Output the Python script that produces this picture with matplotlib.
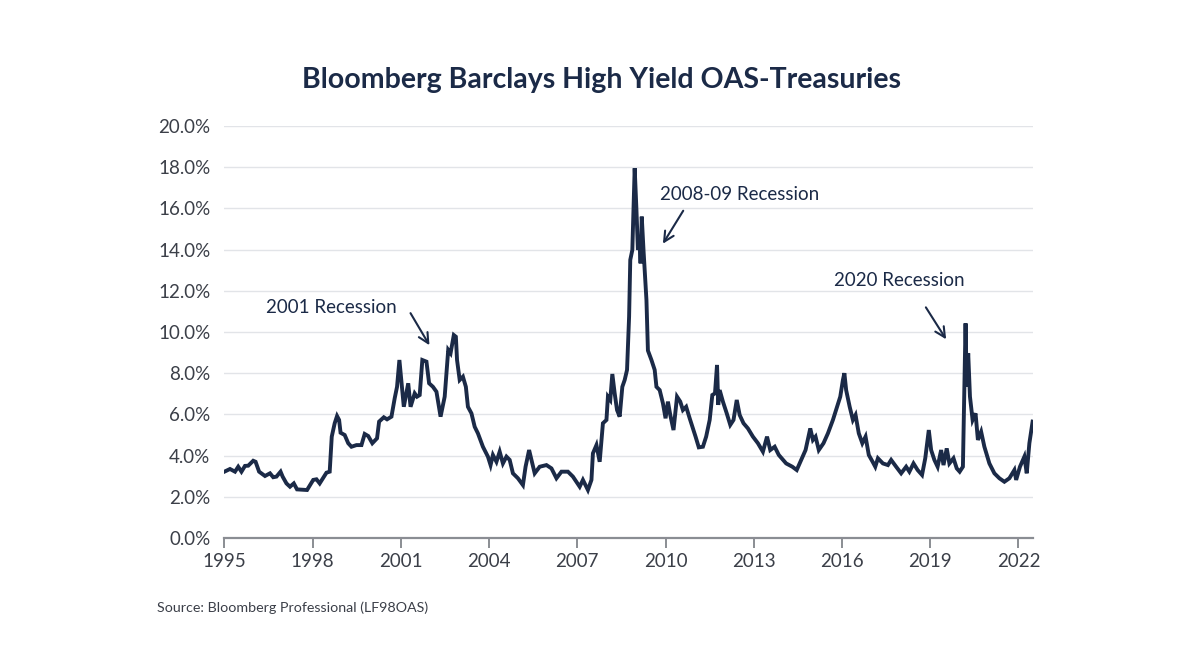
import matplotlib.pyplot as plt
import matplotlib.ticker as mticker

# values (year, OAS %)
years = [
    1995.00, 1995.19, 1995.36, 1995.47, 1995.58, 1995.70, 1995.81, 1995.98, 1996.06, 1996.18,
    1996.38, 1996.55, 1996.66, 1996.77, 1996.91, 1996.98, 1997.11, 1997.23, 1997.36, 1997.47,
    1997.81, 1998.02, 1998.13, 1998.24, 1998.47, 1998.58, 1998.65, 1998.75, 1998.83, 1998.90,
    1998.95, 1999.09, 1999.21, 1999.32, 1999.49, 1999.66, 1999.77, 1999.89, 2000.03, 2000.19,
    2000.26, 2000.42, 2000.53, 2000.68, 2000.79, 2000.87, 2000.95, 2001.10, 2001.25, 2001.33,
    2001.47, 2001.55, 2001.64, 2001.73, 2001.87, 2001.96, 2002.09, 2002.21, 2002.35, 2002.49,
    2002.61, 2002.69, 2002.80, 2002.87, 2002.91, 2003.00, 2003.11, 2003.21, 2003.28, 2003.40,
    2003.51, 2003.62, 2003.79, 2003.96, 2004.05, 2004.13, 2004.25, 2004.36, 2004.47, 2004.59,
    2004.70, 2004.81, 2004.98, 2005.15, 2005.24, 2005.36, 2005.44, 2005.55, 2005.72, 2005.95,
    2006.12, 2006.29, 2006.46, 2006.68, 2006.85, 2007.08, 2007.19, 2007.36, 2007.48, 2007.53,
    2007.65, 2007.76, 2007.87, 2007.99, 2008.04, 2008.12, 2008.19, 2008.27, 2008.35, 2008.44,
    2008.53, 2008.61, 2008.69, 2008.76, 2008.80, 2008.87, 2008.95, 2009.01, 2009.06, 2009.12,
    2009.15, 2009.19, 2009.25, 2009.35, 2009.40, 2009.52, 2009.63, 2009.69, 2009.80, 2009.91,
    2010.00, 2010.08, 2010.16, 2010.27, 2010.39, 2010.50, 2010.59, 2010.70, 2010.82, 2010.93,
    2011.02, 2011.13, 2011.27, 2011.38, 2011.50, 2011.59, 2011.68, 2011.75, 2011.79, 2011.84,
    2011.95, 2012.08, 2012.20, 2012.31, 2012.42, 2012.52, 2012.65, 2012.80, 2012.97, 2013.14,
    2013.31, 2013.45, 2013.56, 2013.71, 2013.85, 2014.10, 2014.31, 2014.46, 2014.61, 2014.76,
    2014.92, 2015.01, 2015.10, 2015.21, 2015.37, 2015.52, 2015.69, 2015.83, 2015.94, 2016.03,
    2016.08, 2016.14, 2016.26, 2016.37, 2016.46, 2016.57, 2016.69, 2016.80, 2016.91, 2017.04,
    2017.13, 2017.22, 2017.39, 2017.56, 2017.67, 2017.84, 2018.01, 2018.18, 2018.29, 2018.43,
    2018.57, 2018.72, 2018.83, 2018.95, 2019.03, 2019.14, 2019.25, 2019.37, 2019.45, 2019.56,
    2019.65, 2019.79, 2019.90, 2020.00, 2020.11, 2020.16, 2020.20, 2020.24, 2020.29, 2020.35,
    2020.44, 2020.54, 2020.62, 2020.73, 2020.84, 2021.01, 2021.18, 2021.35, 2021.52, 2021.69,
    2021.86, 2021.92, 2022.05, 2022.20, 2022.28, 2022.37, 2022.48,
]
oas = [
    3.22, 3.35, 3.22, 3.46, 3.22, 3.50, 3.51, 3.75, 3.70, 3.22,
    3.01, 3.14, 2.95, 2.98, 3.22, 2.98, 2.65, 2.49, 2.65, 2.36,
    2.33, 2.82, 2.85, 2.65, 3.17, 3.22, 4.92, 5.57, 5.92, 5.73,
    5.11, 5.00, 4.60, 4.43, 4.51, 4.51, 5.05, 4.95, 4.60, 4.84,
    5.65, 5.86, 5.76, 5.89, 6.78, 7.34, 8.64, 6.37, 7.51, 6.37,
    7.02, 6.86, 6.94, 8.64, 8.56, 7.51, 7.34, 7.10, 5.89, 6.86,
    9.13, 8.97, 9.85, 9.77, 8.64, 7.67, 7.83, 7.34, 6.37, 6.05,
    5.40, 5.08, 4.43, 3.95, 3.54, 4.03, 3.70, 4.19, 3.62, 3.95,
    3.79, 3.14, 2.90, 2.57, 3.46, 4.27, 3.79, 3.14, 3.46, 3.54,
    3.38, 2.90, 3.22, 3.22, 2.98, 2.49, 2.82, 2.33, 2.82, 4.11,
    4.51, 3.70, 5.57, 5.73, 6.86, 6.70, 7.96, 7.02, 6.21, 5.89,
    7.34, 7.67, 8.16, 10.74, 13.50, 13.98, 17.95, 15.92, 13.98, 14.31,
    13.33, 15.60, 13.98, 11.55, 9.10, 8.64, 8.16, 7.34, 7.18, 6.54,
    5.81, 6.62, 5.97, 5.24, 6.86, 6.62, 6.21, 6.37, 5.81, 5.32,
    4.92, 4.40, 4.43, 4.92, 5.73, 6.94, 7.02, 8.40, 6.46, 7.18,
    6.62, 6.05, 5.49, 5.73, 6.70, 5.97, 5.57, 5.32, 4.92, 4.60,
    4.19, 4.92, 4.27, 4.43, 4.03, 3.62, 3.46, 3.30, 3.79, 4.27,
    5.32, 4.76, 4.92, 4.27, 4.60, 5.08, 5.73, 6.37, 6.86, 7.67,
    8.00, 7.18, 6.37, 5.73, 5.97, 5.08, 4.60, 4.92, 4.03, 3.70,
    3.46, 3.87, 3.62, 3.54, 3.79, 3.46, 3.14, 3.46, 3.22, 3.62,
    3.30, 3.06, 3.87, 5.24, 4.27, 3.79, 3.46, 4.27, 3.54, 4.35,
    3.62, 3.87, 3.38, 3.22, 3.46, 7.34, 10.42, 7.34, 8.97, 6.86,
    5.73, 6.05, 4.76, 5.16, 4.43, 3.62, 3.14, 2.90, 2.73, 2.90,
    3.30, 2.82, 3.46, 3.95, 3.14, 4.60, 5.65,
]

x_ticks = [1995, 1998, 2001, 2004, 2007, 2010, 2013, 2016, 2019, 2022]
y_ticks = [0, 2, 4, 6, 8, 10, 12, 14, 16, 18, 20]

navy = '#1b2a47'
tick_color = '#3b3f48'

plt.rcParams['font.family'] = ['Lato', 'DejaVu Sans']

fig = plt.figure(figsize=(12, 6.7), dpi=100)
ax = fig.add_axes([0.187, 0.197, 0.674, 0.615])

ax.plot(years, oas, color=navy, linewidth=2.8, solid_joinstyle='miter')

ax.set_xlim(1995, 2022.5)
ax.set_ylim(0, 20)
ax.set_xticks(x_ticks)
ax.set_yticks(y_ticks)
ax.yaxis.set_major_formatter(mticker.FuncFormatter(lambda v, p: f"{v:.1f}%"))

# light horizontal grid, gray baseline only
ax.grid(True, axis='y', color='#e2e4e8', linewidth=1.0)
ax.set_axisbelow(True)
for side in ['left', 'right', 'top']:
    ax.spines[side].set_visible(False)
ax.spines['bottom'].set_color('#8a8d93')
ax.spines['bottom'].set_linewidth(1.6)

ax.tick_params(axis='x', colors='#8a8d93', length=7, width=1.4, labelsize=13.5, labelcolor=tick_color, pad=4)
ax.tick_params(axis='y', length=0, labelsize=13.5, labelcolor=tick_color, pad=10)

fig.text(0.501, 0.881, 'Bloomberg Barclays High Yield OAS-Treasuries', ha='center', va='center',
         fontsize=20.5, fontweight='bold', color=navy)
fig.text(0.131, 0.093, 'Source: Bloomberg Professional (LF98OAS)', ha='left', va='center',
         fontsize=10.3, color=tick_color)

# recession callouts
arrow_style = dict(arrowstyle='->', color=navy, lw=1.5, mutation_scale=18)
ax.text(1998.65, 11.17, '2001 Recession', ha='center', va='center', fontsize=13.5, color=navy)
ax.annotate('', xy=(2002.02, 9.24), xytext=(2001.28, 11.03), arrowprops=arrow_style)
ax.text(2012.52, 16.65, '2008-09 Recession', ha='center', va='center', fontsize=13.5, color=navy)
ax.annotate('', xy=(2009.86, 14.17), xytext=(2010.65, 16.0), arrowprops=arrow_style)
ax.text(2017.95, 12.48, '2020 Recession', ha='center', va='center', fontsize=13.5, color=navy)
ax.annotate('', xy=(2019.59, 9.53), xytext=(2018.80, 11.31), arrowprops=arrow_style)

fig.savefig('out.png', dpi=100, facecolor='white')
